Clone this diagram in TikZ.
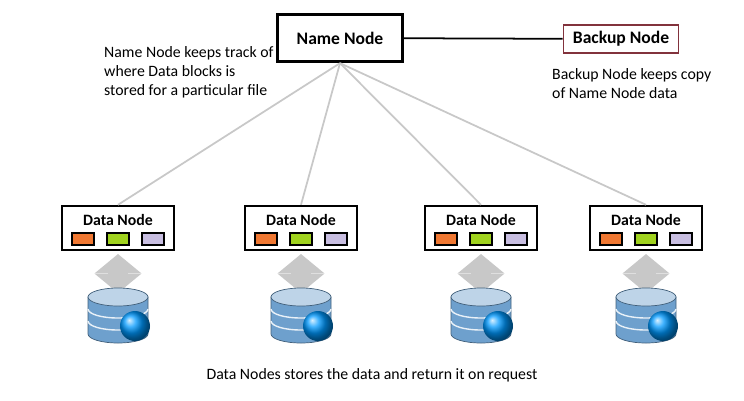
\documentclass[tikz,border=0pt]{standalone}
\usepackage{fontspec}
\setmainfont{Carlito}
\usetikzlibrary{shapes.geometric, arrows.meta, positioning, calc}
\definecolor{linkgray}{RGB}{200,200,200}
\definecolor{blockorange}{RGB}{240,120,50}
\definecolor{blockgreen}{RGB}{160,210,30}
\definecolor{blocklilac}{RGB}{200,190,225}
\definecolor{backupred}{RGB}{130,50,60}
\definecolor{dbblue}{RGB}{110,160,205}

\begin{document}
\begin{tikzpicture}[x=0.02cm, y=-0.02cm,
    namebox/.style={rectangle, draw, line width=1.6pt, minimum width=2.5cm, minimum height=0.95cm, font=\bfseries},
    databox/.style={rectangle, draw, line width=1.4pt, minimum width=2.25cm, minimum height=0.88cm},
    block/.style={rectangle, draw, line width=0.6pt, minimum width=0.44cm, minimum height=0.24cm},
    note/.style={font=\small, align=left, anchor=north west},
    link/.style={linkgray, line width=1pt}
]
\useasboundingbox (0,0) rectangle (744,400);

% Name node and backup
\node[namebox] (name) at (340,38) {Name Node};
\node[rectangle, draw=backupred, line width=1pt, minimum width=2.3cm, minimum height=0.55cm, font=\bfseries] (backup) at (621,39) {Backup Node};
\draw[line width=1pt] (name) -- (backup);

% Notes
\node[note] (namenote) at (98,40) {Name Node keeps track of\\where Data blocks is\\stored for a particular file};
\node[note] (backupnote) at (546,62) {Backup Node keeps copy\\of Name Node data};

% Data nodes
\foreach \i/\x in {1/118, 2/301, 3/481, 4/646} {
  \node[databox] (data\i) at (\x,228) {};
  \node[font=\small\bfseries, below=2pt of data\i.north] (dlabel\i) {Data Node};
  \node[block, fill=blockorange] (ba\i) at (\x-35,239) {};
  \node[block, fill=blockgreen] (bb\i) at (\x,239) {};
  \node[block, fill=blocklilac] (bc\i) at (\x+35,239) {};
  \draw[link] (name.south) -- (data\i.north);
  % double arrow
  \coordinate (au\i) at (\x,254);
  \coordinate (ad\i) at (\x,293);
  \draw[linkgray, line width=11pt, {Triangle[width=26pt,length=11pt]}-{Triangle[width=26pt,length=11pt]}] (au\i) -- (ad\i);
  % database
  \begin{scope}[shift={(\x,0)}]
    \fill[dbblue, draw=dbblue!60!black, line width=0.4pt] (-30,297) -- (-30,334) arc[start angle=180, end angle=0, x radius=30, y radius=9] -- (30,297) -- cycle;
    \draw[white!85!dbblue, line width=0.8pt] (-30,309) arc[start angle=180, end angle=0, x radius=30, y radius=9];
    \draw[white!85!dbblue, line width=0.8pt] (-30,321) arc[start angle=180, end angle=0, x radius=30, y radius=9];
    \draw[fill=dbblue!45!white, draw=dbblue!60!black, line width=0.4pt] (0,297) ellipse[x radius=30, y radius=9];
    \shade[ball color=cyan!60!blue] (17,326) circle (15);
  \end{scope}
}

% Caption
\node[font=\small] (caption) at (372,375) {Data Nodes stores the data and return it on request};
\end{tikzpicture}
\end{document}
